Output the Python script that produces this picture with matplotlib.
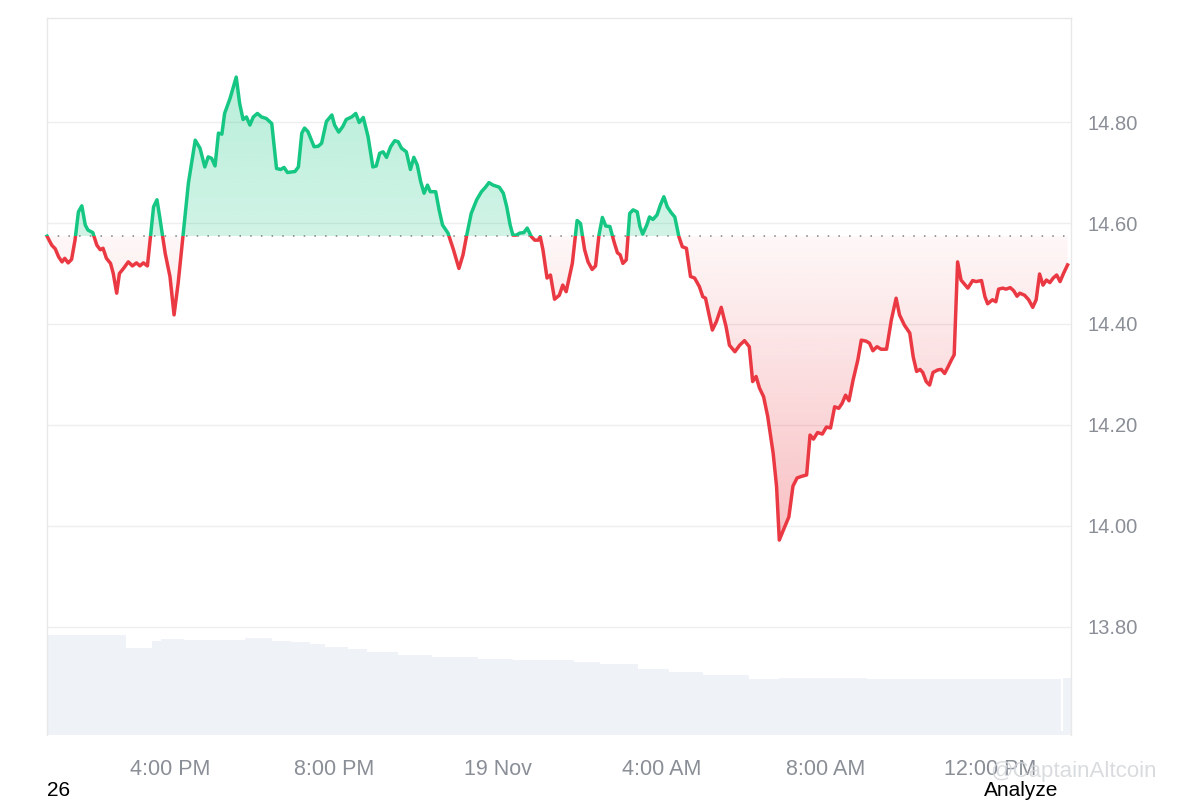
import numpy as np
import matplotlib
matplotlib.use("Agg")
import matplotlib.pyplot as plt
from matplotlib.patches import Rectangle, PathPatch
from matplotlib.path import Path

plt.rcParams["font.family"] = ["Liberation Sans", "DejaVu Sans"]

# -------------------------
# data: minutes since 1:00 PM (18 Nov) and price
# -------------------------
minutes = [
    0, 7, 12, 17, 22, 26, 31, 36, 41, 46, 51, 56, 60, 67, 73, 78, 82, 87, 93, 97,
    102, 106, 112, 119, 125, 131, 136, 141, 147, 156, 161, 165, 173, 180, 186, 192, 199, 207, 217, 224,
    231, 236, 241, 246, 251, 256, 260, 268, 277, 282, 287, 292, 297, 302, 308, 314, 321, 329, 336, 342,
    347, 352, 363, 368, 373, 377, 382, 391, 397, 402, 409, 417, 421, 427, 433, 438, 446, 452, 457, 463,
    470, 477, 482, 487, 492, 497, 503, 509, 514, 519, 526, 532, 537, 542, 547, 552, 557, 561, 569, 574,
    579, 587, 595, 603, 609, 614, 621, 629, 636, 642, 647, 653, 662, 668, 673, 678, 682, 687, 692, 698,
    703, 709, 714, 719, 722, 726, 732, 737, 743, 750, 755, 760, 769, 776, 781, 787, 792, 798, 803, 808,
    813, 818, 824, 830, 835, 839, 843, 848, 853, 858, 864, 868, 872, 878, 882, 887, 893, 898, 903, 908,
    914, 919, 925, 930, 936, 942, 948, 955, 960, 964, 974, 980, 987, 994, 999, 1007, 1014, 1021, 1028, 1033,
    1038, 1043, 1049, 1055, 1063, 1068, 1072, 1078, 1086, 1092, 1098, 1104, 1112, 1117, 1122, 1128, 1135, 1141, 1147, 1153,
    1159, 1164, 1169, 1174, 1180, 1187, 1192, 1199, 1204, 1209, 1215, 1221, 1229, 1236, 1243, 1248, 1255, 1263, 1268, 1273,
    1278, 1282, 1287, 1292, 1297, 1304, 1309, 1314, 1319, 1324, 1328, 1331, 1333, 1338, 1343, 1348, 1355, 1360, 1368, 1373,
    1377, 1384, 1389, 1393, 1399, 1404, 1410, 1415, 1420, 1424, 1431, 1437, 1443, 1448, 1453, 1458, 1463, 1468, 1473, 1478,
    1483, 1488, 1494,
]
price = [
    14.574, 14.556, 14.549, 14.533, 14.523, 14.530, 14.521, 14.528, 14.566, 14.622, 14.634, 14.596, 14.586, 14.581, 14.556, 14.547, 14.550, 14.530, 14.520, 14.500,
    14.461, 14.500, 14.510, 14.523, 14.515, 14.521, 14.515, 14.521, 14.515, 14.632, 14.646, 14.612, 14.540, 14.494, 14.418, 14.481, 14.573, 14.679, 14.764, 14.748,
    14.711, 14.731, 14.728, 14.713, 14.778, 14.776, 14.817, 14.847, 14.889, 14.837, 14.805, 14.810, 14.794, 14.810, 14.817, 14.810, 14.807, 14.797, 14.708, 14.706,
    14.710, 14.700, 14.702, 14.711, 14.778, 14.788, 14.781, 14.751, 14.752, 14.758, 14.801, 14.814, 14.794, 14.780, 14.791, 14.805, 14.810, 14.817, 14.799, 14.809,
    14.771, 14.711, 14.713, 14.738, 14.741, 14.730, 14.751, 14.763, 14.761, 14.748, 14.741, 14.706, 14.730, 14.715, 14.682, 14.659, 14.675, 14.662, 14.662, 14.626,
    14.596, 14.580, 14.547, 14.510, 14.537, 14.573, 14.619, 14.646, 14.662, 14.671, 14.680, 14.675, 14.671, 14.659, 14.632, 14.596, 14.576, 14.576, 14.580, 14.581,
    14.590, 14.573, 14.566, 14.566, 14.573, 14.547, 14.491, 14.497, 14.449, 14.457, 14.477, 14.464, 14.520, 14.605, 14.599, 14.547, 14.523, 14.508, 14.515, 14.576,
    14.611, 14.594, 14.593, 14.563, 14.541, 14.537, 14.520, 14.527, 14.619, 14.626, 14.622, 14.593, 14.578, 14.596, 14.612, 14.607, 14.616, 14.636, 14.652, 14.632,
    14.620, 14.612, 14.573, 14.553, 14.550, 14.494, 14.491, 14.474, 14.454, 14.451, 14.388, 14.405, 14.433, 14.395, 14.358, 14.345, 14.358, 14.367, 14.355, 14.286,
    14.296, 14.273, 14.256, 14.217, 14.144, 14.078, 13.972, 13.992, 14.018, 14.079, 14.095, 14.098, 14.101, 14.180, 14.172, 14.185, 14.182, 14.196, 14.194, 14.236,
    14.233, 14.243, 14.259, 14.248, 14.289, 14.329, 14.368, 14.366, 14.362, 14.347, 14.355, 14.350, 14.350, 14.408, 14.451, 14.418, 14.398, 14.382, 14.335, 14.306,
    14.310, 14.304, 14.286, 14.279, 14.304, 14.309, 14.310, 14.302, 14.315, 14.329, 14.339, 14.448, 14.523, 14.487, 14.479, 14.471, 14.486, 14.484, 14.486, 14.454,
    14.440, 14.448, 14.444, 14.469, 14.471, 14.469, 14.472, 14.466, 14.455, 14.461, 14.457, 14.448, 14.433, 14.448, 14.499, 14.477, 14.487, 14.482, 14.491, 14.497,
    14.484, 14.500, 14.517,
]
baseline = 14.574

# volume (24h rolling, millions) as blocks: start minute, end minute, value
vol_start = [0, 116, 154, 167, 200, 290, 329, 357, 385, 407, 440, 468, 514, 563, 631, 682, 771, 809, 865, 910, 960, 1027, 1072, 1201, 1484, 1488]
vol_end = [116, 154, 167, 200, 290, 329, 357, 385, 407, 440, 468, 514, 563, 631, 682, 771, 809, 865, 910, 960, 1027, 1072, 1201, 1484, 1488, 1499]
vol_value = [10.0, 8.7, 9.4, 9.6, 9.5, 9.7, 9.4, 9.3, 9.1, 8.8, 8.6, 8.3, 8.0, 7.8, 7.6, 7.5, 7.3, 7.1, 6.6, 6.3, 6.0, 5.6, 5.7, 5.6, 0.4, 5.7]

tick_pos = [180, 420, 660, 900, 1140, 1380]
tick_labels = ["4:00 PM", "8:00 PM", "19 Nov", "4:00 AM", "8:00 AM", "12:00 PM"]
y_ticks = [13.80, 14.00, 14.20, 14.40, 14.60, 14.80]

x = np.array(minutes, dtype=float)
y = np.array(price)
xmin, xmax = 0, 1499
ymin, ymax = 13.586, 15.006

GREEN = "#16c784"
RED = "#ea3943"
GRAY = "#8a8e96"

fig = plt.figure(figsize=(12, 8), dpi=100)
pos = [47 / 1200, 1 - 735 / 800, (1071 - 47) / 1200, (735 - 18) / 800]

# -------------------------
# volume axes (behind)
# -------------------------
vax = fig.add_axes(pos, zorder=0)
vax.bar(vol_start, vol_value, width=np.array(vol_end) - np.array(vol_start),
        align="edge", color="#eff2f6", linewidth=0)
vax.set_xlim(xmin, xmax)
vax.set_ylim(0, 71.7)
vax.axis("off")

# -------------------------
# price axes
# -------------------------
ax = fig.add_axes(pos, zorder=1)
ax.patch.set_alpha(0)


def gradient_fill(mask, color, y_lo, y_hi, a_lo, a_hi):
    poly = ax.fill_between(x, y, baseline, where=mask, interpolate=True,
                           facecolor="none", edgecolor="none")
    path = Path.make_compound_path(*poly.get_paths())
    rgb = matplotlib.colors.to_rgb(color)
    grad = np.zeros((200, 1, 4))
    grad[:, 0, :3] = rgb
    grad[:, 0, 3] = np.linspace(a_lo, a_hi, 200)
    img = ax.imshow(grad, extent=[xmin, xmax, y_lo, y_hi], origin="lower",
                    aspect="auto", zorder=2, interpolation="bilinear")
    clip = PathPatch(path, transform=ax.transData, facecolor="none", edgecolor="none")
    ax.add_patch(clip)
    img.set_clip_path(clip)


gradient_fill(y >= baseline, GREEN, baseline, 14.89, 0.20, 0.30)
gradient_fill(y <= baseline, RED, 13.97, baseline, 0.32, 0.04)

# line, green above the baseline and red below
up, = ax.plot(x, y, color=GREEN, lw=2.5, zorder=4, solid_joinstyle="round")
dn, = ax.plot(x, y, color=RED, lw=2.5, zorder=4, solid_joinstyle="round")
up.set_clip_path(Rectangle((xmin - 50, baseline), xmax + 100, 5, transform=ax.transData))
dn.set_clip_path(Rectangle((xmin - 50, baseline - 5), xmax + 100, 5, transform=ax.transData))

ax.axhline(baseline, color="#808080", lw=1.1, ls=(0, (1, 6)), zorder=3)

ax.set_xlim(xmin, xmax)
ax.set_ylim(ymin, ymax)
ax.set_xticks(tick_pos)
ax.set_xticklabels(tick_labels)
ax.set_yticks(y_ticks)
ax.set_yticklabels([f"{v:.2f}" for v in y_ticks])
ax.yaxis.tick_right()
ax.tick_params(axis="x", length=0, pad=17, labelsize=15.5, labelcolor=GRAY)
ax.tick_params(axis="y", length=0, pad=12, labelsize=14.5, labelcolor=GRAY)
ax.yaxis.grid(True, color="#eeeeee", lw=1)
ax.set_axisbelow(True)
for s in ["top", "left", "right"]:
    ax.spines[s].set_color("#e8e8e8")
    ax.spines[s].set_linewidth(1)
ax.spines["bottom"].set_visible(False)

fig.text(47 / 1200, 1 - 790 / 800, "26", fontsize=15, color="black", va="center", ha="left")
fig.text(1021 / 1200, 1 - 790 / 800, "Analyze", fontsize=15, color="black", va="center", ha="center")
fig.text(990 / 1200, 1 - 771 / 800, "@CaptainAltcoin", fontsize=16, color="#d3d6da",
         va="center", ha="left", alpha=0.85)

fig.savefig("out.png", dpi=100, facecolor="white")
